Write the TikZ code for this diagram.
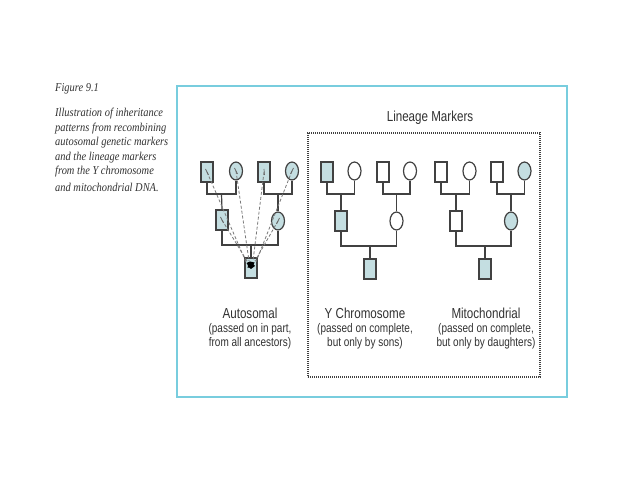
\documentclass[tikz,border=0pt]{standalone}
\usepackage{fontspec}
\setmainfont{Liberation Serif}
\newfontfamily\sansf{Liberation Sans}
\usetikzlibrary{shapes.geometric,calc}
\definecolor{shade}{RGB}{196,222,225}
\definecolor{ink}{RGB}{65,65,65}
\definecolor{frame}{RGB}{120,205,222}
\definecolor{txt}{RGB}{50,50,50}
\newcommand{\cond}[1]{\scalebox{0.8}[1]{#1}}
\newcommand{\capcond}[1]{\scalebox{0.87}[1]{#1}}
\begin{document}
\begin{tikzpicture}[x=1pt,y=-1pt,
  male/.style={draw=ink,line width=1.2pt,rectangle,minimum width=12pt,minimum height=20pt,inner sep=0pt},
  female/.style={draw=ink,line width=1.2pt,ellipse,minimum width=13pt,minimum height=18pt,inner sep=0pt},
  aff/.style={fill=shade},
  tie/.style={draw=ink,line width=1.2pt},
  inherit/.style={draw=ink!70,line width=0.8pt,dash pattern=on 3pt off 2pt},
  tickmark/.style={draw=ink!80,line width=0.7pt},
  title/.style={font=\sansf\fontsize{14.5}{16}\selectfont,text=txt,inner sep=0pt},
  sub/.style={font=\sansf\fontsize{12.5}{14}\selectfont,text=txt,inner sep=0pt,align=center},
  capt/.style={font=\itshape\fontsize{12}{14}\selectfont,text=txt,inner sep=0pt,anchor=west}]
\useasboundingbox (0,0) rectangle (638,478);
\fill[white] (0,0) rectangle (638,478);
% caption
\node[capt] (c0) at (55,89) {\capcond{Figure 9.1}};
\node[capt] (c1) at (55,114) {\capcond{Illustration of inheritance}};
\node[capt] (c2) at (55,129) {\capcond{patterns from recombining}};
\node[capt] (c3) at (55,143) {\capcond{autosomal genetic markers}};
\node[capt] (c4) at (55,158) {\capcond{and the lineage markers}};
\node[capt] (c5) at (55,172) {\capcond{from the Y chromosome}};
\node[capt] (c6) at (55,187) {\capcond{and mitochondrial DNA.}};
% frames
\node[draw=frame,line width=1.6pt,minimum width=390pt,minimum height=311pt,inner sep=0pt] (outer) at (372,241.5) {};
\node[draw=ink,line width=1.3pt,dash pattern=on 1.1pt off 0.9pt,minimum width=232pt,minimum height=244pt,inner sep=0pt] (lin) at (424,255) {};
\node[title] (lm) at (430,118) {\cond{Lineage Markers}};
% ---- Autosomal
\node[male,aff] (a1) at (207,172) {};
\node[female,aff] (a2) at (236,171) {};
\node[male,aff] (a3) at (264,172) {};
\node[female,aff] (a4) at (292,171) {};
\node[male,aff] (a5) at (222,220) {};
\node[female,aff] (a6) at (278,221) {};
\node[male,aff] (a7) at (251,268) {};
\coordinate (aj1) at (221.5,194);
\coordinate (aj2) at (278,194);
\coordinate (aj3) at (251,245);
\draw[tie] (a1.south) |- (aj1) -| (a2.south);
\draw[tie] (a3.south) |- (aj2) -| (a4.south);
\draw[tie] (aj1) -- (a5.north);
\draw[tie] (aj2) -- (a6.north);
\draw[tie] (a5.south) |- (aj3) -| (a6.south);
\draw[tie] (aj3) -- (a7.north);
\coordinate (t1) at (246,262);
\coordinate (t2) at (249,261);
\coordinate (t3) at (253,261);
\coordinate (t4) at (256,262);
\coordinate (t5) at (247,261);
\coordinate (t6) at (255,261);
\draw[inherit] (a1.center) -- (t1);
\draw[inherit] (a2.center) -- (t2);
\draw[inherit] (a3.center) -- (t3);
\draw[inherit] (a4.center) -- (t4);
\draw[inherit] (a5.center) -- (t5);
\draw[inherit] (a6.center) -- (t6);
\draw[tickmark] ($(a1.center)+(-1.5,-3)$) -- ++(3,6);
\draw[tickmark] ($(a2.center)+(-1.5,-3)$) -- ++(3,6);
\draw[tickmark] ($(a3.center)+(0,-3)$) -- ++(0.5,6);
\draw[tickmark] ($(a4.center)+(1.5,-3)$) -- ++(-3,6);
\draw[tickmark] ($(a5.center)+(-1.5,-3)$) -- ++(3,6);
\draw[tickmark] ($(a6.center)+(1.5,-3)$) -- ++(-3,6);
\fill[black] (246.5,263) -- (250,261.5) -- (254.5,262.5) -- (253.5,264.5) -- (255,266) -- (251,269) -- (249,267.5) -- (247.5,268) -- (248,265.5) -- cycle;
% ---- Y chromosome
\node[male,aff] (y1) at (327,172) {};
\node[female] (y2) at (354.5,171) {};
\node[male] (y3) at (383,172) {};
\node[female] (y4) at (410,171) {};
\node[male,aff] (y5) at (341,221) {};
\node[female] (y6) at (396.5,221) {};
\node[male,aff] (y7) at (370,269) {};
\coordinate (yj1) at (341,194);
\coordinate (yj2) at (396.5,194);
\coordinate (yj3) at (370,246);
\draw[tie] (y1.south) |- (yj1) -| (y2.south);
\draw[tie] (y3.south) |- (yj2) -| (y4.south);
\draw[tie] (yj1) -- (y5.north);
\draw[tie] (yj2) -- (y6.north);
\draw[tie] (y5.south) |- (yj3) -| (y6.south);
\draw[tie] (yj3) -- (y7.north);
% ---- Mitochondrial
\node[male] (m1) at (441,172) {};
\node[female] (m2) at (469.5,171) {};
\node[male] (m3) at (497,172) {};
\node[female,aff] (m4) at (524.5,171) {};
\node[male] (m5) at (456,221) {};
\node[female,aff] (m6) at (511,221) {};
\node[male,aff] (m7) at (485,269) {};
\coordinate (mj1) at (456,194);
\coordinate (mj2) at (511,194);
\coordinate (mj3) at (485,246);
\draw[tie] (m1.south) |- (mj1) -| (m2.south);
\draw[tie] (m3.south) |- (mj2) -| (m4.south);
\draw[tie] (mj1) -- (m5.north);
\draw[tie] (mj2) -- (m6.north);
\draw[tie] (m5.south) |- (mj3) -| (m6.south);
\draw[tie] (mj3) -- (m7.north);
% ---- labels
\node[title] (la) at (250,313) {\cond{Autosomal}};
\node[sub] (la2) at (250,329) {\cond{(passed on in part,}};
\node[sub] (la3) at (250,343) {\cond{from all ancestors)}};
\node[title] (ly) at (365,313) {\cond{Y Chromosome}};
\node[sub] (ly2) at (365,329) {\cond{(passed on complete,}};
\node[sub] (ly3) at (365,343) {\cond{but only by sons)}};
\node[title] (lmt) at (486,313) {\cond{Mitochondrial}};
\node[sub] (lm2) at (486,329) {\cond{(passed on complete,}};
\node[sub] (lm3) at (486,343) {\cond{but only by daughters)}};
\end{tikzpicture}
\end{document}
